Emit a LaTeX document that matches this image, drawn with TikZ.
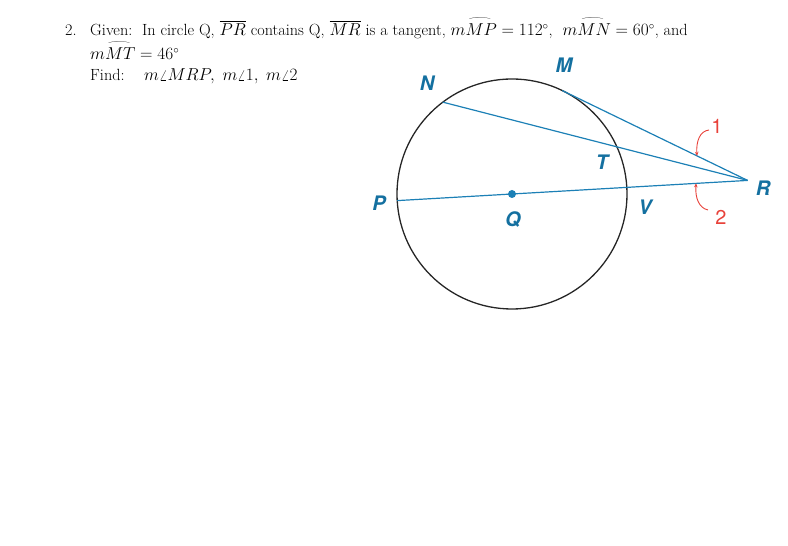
\documentclass[tikz,border=0pt]{standalone}
\usepackage{fontspec}
\usepackage{amsmath}
\usepackage{graphicx}
\usepackage{tikz}
\usetikzlibrary{positioning}
\usetikzlibrary{calc}
\usetikzlibrary{arrows.meta}
\newfontfamily\lblfont{TeX Gyre Heros}
\newcommand{\arcof}[1]{\smash{\overset{\scalebox{2.2}[0.7]{$\scriptstyle\frown$}}{#1}}}

\begin{document}
\begin{tikzpicture}
    [%%%%%%%%%%%%%%%%%%%%%%%%%%%%%%
        x=1pt, y=1pt,
        txt/.style={anchor=base west, inner sep=0pt, font=\fontsize{16.2}{22}\selectfont},
        seg/.style={draw=segblue, line width=1.2pt},
        lbl/.style={text=lblblue, inner sep=0pt, font=\lblfont\bfseries\itshape\fontsize{20}{20}\selectfont},
        num/.style={text=markred, inner sep=0pt, font=\lblfont\fontsize{20}{20}\selectfont},
        anglemark/.style={draw=markred, line width=0.9pt, -{Stealth[length=4pt,width=3.5pt]}}
    ]%%%%%%%%%%%%%%%%%%%%%%%%%%%%%%
\definecolor{segblue}{RGB}{28,128,182}
\definecolor{lblblue}{RGB}{20,112,160}
\definecolor{markred}{RGB}{232,66,58}
\useasboundingbox (0,0) rectangle (788,546);

% text
\node[txt] (no) at (65,510.3) {2.};
\node[txt] (given) at (90,510.3) {Given:\ \ In circle Q, $\overline{PR}$ contains Q, $\overline{MR}$ is a tangent, $m\arcof{MP}=112^\circ$, \ $m\arcof{MN}=60^\circ$, and};
\node[txt] (given2) at (90,486.7) {$m\arcof{MT}=46^\circ$};
\node[txt] (find) at (90,465.3) {Find:};
\node[txt] (findwhat) at (144,465.3) {$m\angle MRP,\ m\angle 1,\ m\angle 2$};

% circle and points
\coordinate (Q) at (512,352);
\draw[color=black!85, line width=1.3pt] (Q) circle (115);
\coordinate (P) at ([shift={(183.3:115)}]Q);
\coordinate (V) at ([shift={(3.3:115)}]Q);
\coordinate (R) at ([shift={(3.3:236)}]Q);
\coordinate (M) at ([shift={(64.1:115)}]Q);
\coordinate (N) at ([shift={(127:115)}]Q);
\coordinate (T) at ([shift={(24.2:115)}]Q);

\draw[seg] (P) -- (R);
\draw[seg] (N) -- (R);
\draw[seg] (M) -- (R);
\fill[segblue] (Q) circle (4);

% labels
\node[lbl] (labN) at (427,463) {N};
\node[lbl] (labM) at (564,481) {M};
\node[lbl] (labT) at (602,384) {T};
\node[lbl] (labP) at (379,343) {P};
\node[lbl] (labQ) at (513,326) {Q};
\node[lbl] (labV) at (645,339) {V};
\node[lbl] (labR) at (763,358) {R};

% angle marks
\coordinate (a1) at ($(R)!0.273!(M)$);
\coordinate (a2) at ($(R)!0.147!(P)$);
\coordinate (s1) at (709,416);
\coordinate (s2) at (708,336);
\node[num] (one) at (717,420) {1};
\node[num] (two) at (721,329) {2};
\draw[anglemark] (s1) .. controls (700,415) and (696,405) .. (a1);
\draw[anglemark] (s2) .. controls (699,338) and (695,348) .. (a2);

\end{tikzpicture}
\end{document}
